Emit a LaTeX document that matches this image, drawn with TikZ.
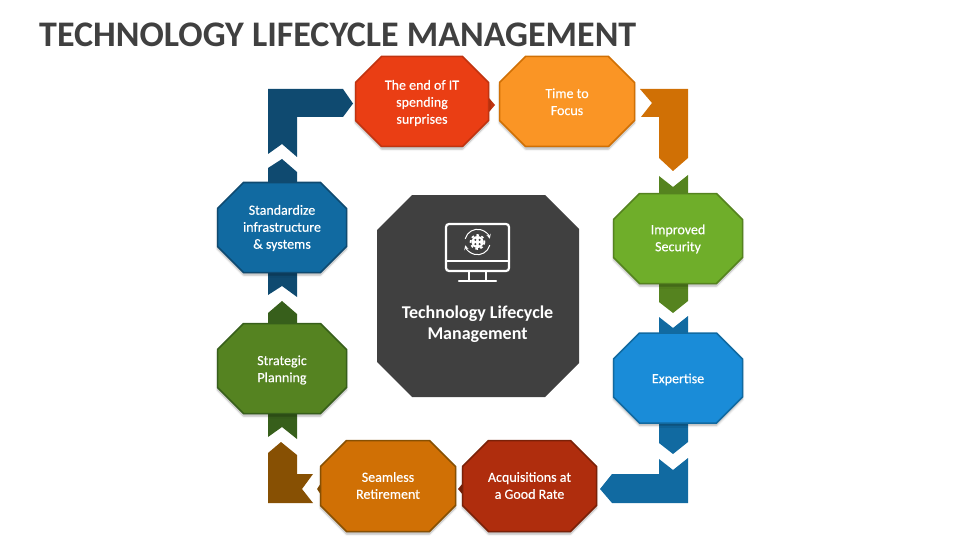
\documentclass[tikz,border=0pt]{standalone}
\usepackage{fontspec}
\setmainfont{Carlito}
\newfontfamily\labelfont[FakeBold=0.35]{Carlito}
\usetikzlibrary{shadows.blur}
\definecolor{titlegray}{HTML}{404040}
\definecolor{navydark}{HTML}{0F4A70}
\definecolor{stdblue}{HTML}{116AA1}
\definecolor{skyblue}{HTML}{1A8CD8}
\definecolor{leafgreen}{HTML}{6FAE2A}
\definecolor{leafdark}{HTML}{55831F}
\definecolor{plangreen}{HTML}{558321}
\definecolor{plandark}{HTML}{375F1B}
\definecolor{endred}{HTML}{EA3E14}
\definecolor{enddark}{HTML}{C03410}
\definecolor{focusorange}{HTML}{FA9525}
\definecolor{focusdark}{HTML}{D07005}
\definecolor{retirebrown}{HTML}{875003}
\definecolor{acqred}{HTML}{AF2D0D}
\definecolor{acqdark}{HTML}{7A2108}
\tikzset{
  octshape/.style={line width=1.5pt, line join=miter,
    blur shadow={shadow xshift=0pt, shadow yshift=-2.5pt, shadow blur steps=5, shadow blur radius=2pt, shadow opacity=30}},
  octlabel/.style={align=center, text=white, font=\labelfont\fontsize{14}{17}\selectfont},
}
% name, center x, center y, half width, half height, fill, line, text, text shift
\newcommand{\octnode}[9]{
  \draw[octshape, fill=#6, draw=#7]
    (#2-#4+26,#3-#5) -- (#2+#4-26,#3-#5) -- (#2+#4,#3-#5+26) -- (#2+#4,#3+#5-26)
    -- (#2+#4-26,#3+#5) -- (#2-#4+26,#3+#5) -- (#2-#4,#3+#5-26) -- (#2-#4,#3-#5+26) -- cycle;
  \node[octlabel] (#1) at (#2,#3+#9) {#8};
}
\begin{document}
\begin{tikzpicture}[x=1pt, y=-1pt]
  \useasboundingbox (0,0) rectangle (960,540);

  % Title
  \node[titlegray, anchor=west, inner sep=0pt, font=\fontsize{36}{36}\selectfont\bfseries] (title) at (39,35) {TECHNOLOGY LIFECYCLE MANAGEMENT};

  % Ribbon pieces
  \fill[navydark] (268,89) -- (343,89) -- (353,103.5) -- (343,117) -- (297,117) -- (297,157) -- (282,144) -- (268,154) -- cycle;
  \fill[navydark] (268,183) -- (268,168) -- (282,159) -- (297,172) -- (297,183) -- cycle;
  \fill[focusdark] (640,89) -- (688,89) -- (688,158) -- (673,171) -- (659,158) -- (659,117) -- (641,117) -- (652,103) -- cycle;
  \fill[leafdark] (659,176) -- (673,187) -- (688,175) -- (688,194) -- (659,194) -- cycle;
  \fill[leafdark] (659,283) -- (688,283) -- (688,301) -- (673,313) -- (659,302) -- cycle;
  \fill[stdblue] (659,317) -- (673,328) -- (688,316) -- (688,334) -- (659,334) -- cycle;
  \fill[stdblue] (659,423) -- (688,423) -- (688,442) -- (673,454) -- (659,443) -- cycle;
  \fill[stdblue] (659,459) -- (673,470) -- (688,458) -- (688,503) -- (612,503) -- (600,489) -- (612,474) -- (659,474) -- cycle;
  \fill[retirebrown] (268,453) -- (281,442) -- (297,455) -- (297,474) -- (313,474) -- (302,489) -- (313,503) -- (268,503) -- cycle;
  \fill[plandark] (268,414) -- (297,414) -- (297,439) -- (282,427) -- (268,437) -- cycle;
  \fill[plandark] (268,324) -- (268,313) -- (282,301) -- (297,314) -- (297,324) -- cycle;
  \fill[navydark] (268,272) -- (297,272) -- (297,297) -- (282,286) -- (268,295) -- cycle;

  % Small tips
  \fill[enddark] (489,98) -- (495,105) -- (489,112) -- cycle;
  \fill[acqdark] (463,483) -- (458,489) -- (463,495) -- cycle;
  \fill[retirebrown] (321,483) -- (317,489) -- (321,495) -- cycle;

  % Octagons
  \octnode{endit}{422}{101.5}{66.5}{45}{endred}{enddark}{The end of IT\\spending\\surprises}{1.5}
  \octnode{focus}{567}{101.5}{67.5}{45}{focusorange}{focusdark}{Time to\\Focus}{0.3}
  \octnode{security}{678}{238.5}{64.5}{45}{leafgreen}{leafdark}{Improved\\Security}{0.5}
  \octnode{expertise}{678}{378}{64.5}{45}{skyblue}{stdblue}{Expertise}{1.5}
  \octnode{acquire}{529.5}{486}{67}{45.5}{acqred}{acqdark}{Acquisitions at\\a Good Rate}{-0.5}
  \octnode{retire}{388}{486}{67.5}{45.5}{focusdark}{retirebrown}{Seamless\\Retirement}{-0.5}
  \octnode{planning}{282}{368.5}{64.5}{45}{plangreen}{plandark}{Strategic\\Planning}{1.5}
  \octnode{standard}{282}{227.5}{64.5}{45}{stdblue}{navydark}{Standardize\\infrastructure\\\& systems}{0.5}

  % Center block
  \fill[titlegray] (412,195) -- (545,195) -- (579,229) -- (579,363) -- (545,397) -- (412,397) -- (377,362) -- (377,230) -- cycle;
  \node[white, align=center, font=\fontsize{18}{21}\selectfont\bfseries] (centerlabel) at (477.5,324.5) {Technology Lifecycle\\Management};

  % Monitor icon
  \begin{scope}[white, line width=2.2pt, line cap=round]
    \draw[rounded corners=3pt] (446,224) rectangle (509,271);
    \draw (446,261) -- (509,261);
    \draw (469,271) -- (469,281);
    \draw (486,271) -- (486,281);
    \draw (459,281) -- (496,281);
    \draw[line width=1pt, -stealth] (477.5,242) ++(195:12.7) arc (195:345:12.7);
    \draw[line width=1pt, -stealth] (477.5,242) ++(15:12.7) arc (15:165:12.7);
    \fill (477.5,242) circle (6);
    \draw[line width=1.8pt, dash pattern=on 2.6pt off 2.6pt, line cap=butt] (477.5,242) circle (6.9);
    \foreach \holeang in {45,135,225,315}
      \fill[titlegray] (477.5,242) ++(\holeang:3) circle (1.2);
  \end{scope}
\end{tikzpicture}
\end{document}
